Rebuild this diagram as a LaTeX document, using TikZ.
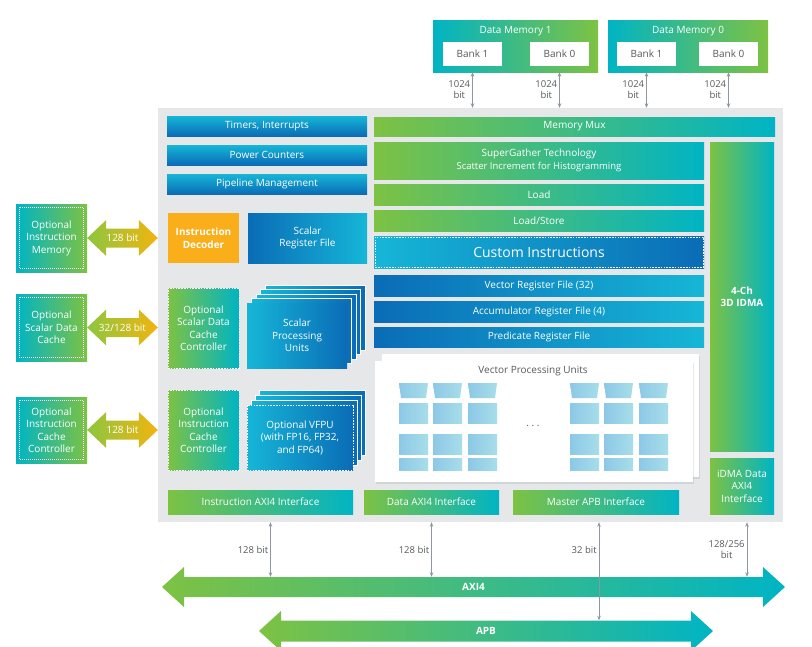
\documentclass[tikz,border=0pt]{standalone}
\usepackage{fontspec}
\setmainfont{Open Sans}
\usetikzlibrary{arrows.meta,calc,shadows}

\definecolor{dpgreen}{HTML}{7DC243}
\definecolor{dpteal}{HTML}{00B4C4}
\definecolor{dpcyan}{HTML}{16B6D7}
\definecolor{dpblue}{HTML}{0A6CB6}
\definecolor{dporange}{HTML}{F9AE1A}
\definecolor{dpyellow}{HTML}{F2B40F}
\definecolor{dplime}{HTML}{8DC63F}
\definecolor{coregray}{HTML}{E6E7E8}
\definecolor{arrowgray}{HTML}{8E979F}
\definecolor{labelgray}{HTML}{58595B}
\definecolor{cellblue}{HTML}{8CC8E6}
\definecolor{cellcyan}{HTML}{A8DEEA}

\newcommand\barfont{\fontsize{10}{12.5}\selectfont}
\newcommand\smallfont{\fontsize{9.5}{11}\selectfont}

% wide double arrow: style, from, to, shaft half, head half, head length, name, text
\newcommand\fatarrow[8]{%
\shade[#1] let \p1=#2, \p2=#3 in
  (\x1,\y1) -- ++(#6,#5) -- ++(0,-#5+#4) -- (\x2-#6,\y1+#4) -- ++(0,#5-#4)
  -- (\x2,\y1) -- ++(-#6,-#5) -- ++(0,#5-#4) -- (\x1+#6,\y1-#4) -- ++(0,-#5+#4) -- cycle
  (\x1/2+\x2/2,\y1) node[inner sep=0pt, minimum height=2*#4, text=white] (#7) {#8};}

\tikzset{
  corners/.style n args={4}{minimum width={#3-#1}, minimum height={#4-#2},
    at={({(#1+#3)/2},{(#2+#4)/2})}},
  blk/.style={inner sep=0pt, text=white, align=center, font=\barfont},
  greenbar/.style={blk, left color=dpgreen, right color=dpteal},
  bluebar/.style={blk, left color=dpblue, right color=dpcyan},
  cyanbar/.style={blk, left color=dpcyan, right color=dpblue},
  topbar/.style={blk, top color=dpcyan, bottom color=dpblue},
  optbox/.style={blk, left color=dpteal, right color=dpgreen},
  bankbox/.style={blk, fill=white, text=labelgray},
  dashedge/.style={draw=white, dash pattern=on 1.6pt off 1.2pt, line width=0.6pt},
  bitarrow/.style={{Stealth[length=4.5pt,width=3.5pt]}-{Stealth[length=4.5pt,width=3.5pt]}, draw=arrowgray, line width=0.7pt},
  bitlabel/.style={text=labelgray, font=\smallfont, align=center, inner sep=2pt},
  cell/.style={left color=cellblue, right color=cellcyan},
  card/.style={fill=white, inner sep=0pt, drop shadow={opacity=0.18, shadow xshift=1pt, shadow yshift=-2pt}},
}

\begin{document}
\begin{tikzpicture}[x=1pt,y=-1pt]
\useasboundingbox (0,0) rectangle (812,646);

% core background
\node[inner sep=0pt, fill=coregray, corners={158}{108}{783}{522}] (core) {};

% data memories
\node[optbox, corners={433}{20}{598}{72}] (dm1) {};
\node[text=white, font=\barfont] at (515.5,31) {Data Memory 1};
\node[bankbox, corners={443}{42}{502}{66}] (b11) {Bank 1};
\node[bankbox, corners={530}{42}{589}{66}] (b10) {Bank 0};
\node[optbox, corners={608}{20}{768}{72}] (dm0) {};
\node[text=white, font=\barfont] at (688,31) {Data Memory 0};
\node[bankbox, corners={617}{42}{676}{66}] (b01) {Bank 1};
\node[bankbox, corners={699}{42}{758}{66}] (b00) {Bank 0};

\draw[bitarrow] (b11.south |- dm1.south) -- node[bitlabel, left] {1024\\bit} (b11.south |- core.north);
\draw[bitarrow] (b10.south |- dm1.south) -- node[bitlabel, left] {1024\\bit} (b10.south |- core.north);
\draw[bitarrow] (b01.south |- dm0.south) -- node[bitlabel, left] {1024\\bit} (b01.south |- core.north);
\draw[bitarrow] (b00.south |- dm0.south) -- node[bitlabel, left] {1024\\bit} (b00.south |- core.north);

% left column
\node[topbar, corners={167}{116}{367}{136}] (timers) {Timers, Interrupts};
\node[topbar, corners={167}{145}{367}{165}] (power) {Power Counters};
\node[topbar, corners={167}{174}{367}{194}] (pipe) {Pipeline Management};
\node[blk, fill=dporange, font=\barfont\bfseries, corners={168}{213}{239}{263}] (dec) {Instruction\\Decoder};
\node[bluebar, corners={248}{213}{367}{263}] (srf) {Scalar\\Register File};

\node[blk, left color=dpgreen, right color=dpteal, dashedge, corners={168}{288}{239}{368}] (sdcc) {Optional\\Scalar Data\\Cache\\Controller};
\foreach \k in {4,3,2,1}
  \shade[left color=dpcyan, right color=dpblue, draw=white, line width=0.3pt]
    (247+4.5*\k,303-4.5*\k) rectangle ++(100,65);
\node[cyanbar, corners={247}{303}{347}{368}] (spu) {Scalar\\Processing\\Units};

\node[blk, left color=dpgreen, right color=dpteal, dashedge, corners={168}{390}{239}{470}] (iccc) {Optional\\Instruction\\Cache\\Controller};
\foreach \k in {3,2,1}
  \shade[left color=dpcyan, right color=dpblue, draw=white, line width=0.3pt]
    (247+4*\k,405-5*\k) rectangle ++(106,65);
\node[cyanbar, dashedge, corners={247}{405}{353}{470}] (vfpu) {Optional VFPU\\(with FP16, FP32,\\and FP64)};

% vector side
\node[greenbar, corners={374}{117}{775}{136}] (mux) {Memory Mux};
\node[greenbar, corners={374}{142}{704}{179}] (sg) {SuperGather Technology\\{\smallfont Scatter Increment for Histogramming}};
\node[greenbar, corners={374}{184}{704}{205}] (load) {Load};
\node[greenbar, corners={374}{210}{704}{231}] (ls) {Load/Store};
\node[cyanbar, font=\fontsize{14}{16}\selectfont, corners={374}{236}{704}{268}] (cust) {Custom Instructions};
\draw[dashedge] ([shift={(1,1)}]cust.north west) rectangle ([shift={(-1,-1)}]cust.south east);
\node[bluebar, corners={374}{275}{704}{296}] (vrf) {Vector Register File (32)};
\node[bluebar, corners={374}{301}{704}{322}] (arf) {Accumulator Register File (4)};
\node[bluebar, corners={374}{327}{704}{347}] (prf) {Predicate Register File};
\node[greenbar, font=\barfont\bfseries, corners={710}{142}{774}{451}] (idma) {4-Ch\\3D IDMA};

\node[card, corners={382}{354}{699}{477}] (vpuback) {};
\node[card, corners={375}{361}{693}{482}] (vpu) {};
\node[text=labelgray, font=\barfont] (vputitle) at ($(vpu.north)+(-1,10)$) {Vector Processing Units};
\foreach \cx in {399,433,468,570,604,639}{
  \shade[cell] (\cx,383) -- (\cx+29,383) -- (\cx+27,398) -- (\cx+2,398) -- cycle;
  \shade[cell] (\cx,403) rectangle ++(29,20);
  \shade[cell] (\cx,434) rectangle ++(29,20);
  \shade[cell] (\cx,458) rectangle ++(29,12);
}
\node[text=labelgray, font=\barfont] (vpudots) at (533,427) {· · ·};

% interfaces
\node[greenbar, corners={168}{490}{353}{514}] (iaxi) {Instruction AXI4 Interface};
\node[greenbar, corners={364}{490}{499}{514}] (daxi) {Data AXI4 Interface};
\node[greenbar, corners={513}{490}{679}{514}] (mapb) {Master APB Interface};
\node[greenbar, corners={710}{458}{774}{514}] (idd) {iDMA Data\\AXI4\\Interface};

% external boxes
\node[optbox, corners={16}{204}{87}{272}] (im) {Optional\\Instruction\\Memory};
\node[optbox, corners={16}{294}{87}{361}] (sdc) {Optional\\Scalar Data\\Cache};
\node[optbox, corners={16}{397}{87}{463}] (icc) {Optional\\Instruction\\Cache\\Controller};
\foreach \n in {im,sdc,icc}
  \draw[white, dash pattern=on 1pt off 1pt, line width=0.8pt]
    ([shift={(3.5,3.5)}]\n.north west) rectangle ([shift={(-3.5,-3.5)}]\n.south east);

\fatarrow{left color=dplime, right color=dpyellow}{(im.east)}{(core.west |- im.east)}{9.5pt}{18pt}{19pt}{a1}{\barfont 128 bit}
\fatarrow{left color=dplime, right color=dpyellow}{(sdc.east)}{(core.west |- sdc.east)}{9.5pt}{18pt}{19pt}{a2}{\barfont 32/128 bit}
\fatarrow{left color=dplime, right color=dpyellow}{(icc.east)}{(core.west |- icc.east)}{9.5pt}{18pt}{19pt}{a3}{\barfont 128 bit}

% buses
\coordinate (axiL) at (162,587);
\coordinate (axiR) at (785,587);
\coordinate (apbL) at (259,631);
\coordinate (apbR) at (713,631);
\fatarrow{left color=dpgreen, right color=dpteal}{(axiL)}{(axiR)}{10pt}{20pt}{22pt}{axi}{\barfont\bfseries AXI4}
\fatarrow{left color=dpgreen, right color=dpteal}{(apbL)}{(apbR)}{10.5pt}{20pt}{22pt}{apb}{\barfont\bfseries APB}

\coordinate (iaxiport) at ([xshift=10pt]iaxi.south);
\coordinate (daxiport) at (daxi.south);
\coordinate (mapbport) at ([xshift=3pt]mapb.south);
\coordinate (iddport) at ([xshift=5pt]idd.south);
\draw[bitarrow] (iaxiport |- core.south) -- node[bitlabel, left] {128 bit} (iaxiport |- axi.north);
\draw[bitarrow] (daxiport |- core.south) -- node[bitlabel, left] {128 bit} (daxiport |- axi.north);
\draw[bitarrow] (mapbport |- core.south) -- node[bitlabel, left, pos=0.28] {32 bit} (mapbport |- apb.north);
\draw[bitarrow] (iddport |- core.south) -- node[bitlabel, left] {128/256\\bit} (iddport |- axi.north);
\end{tikzpicture}
\end{document}
